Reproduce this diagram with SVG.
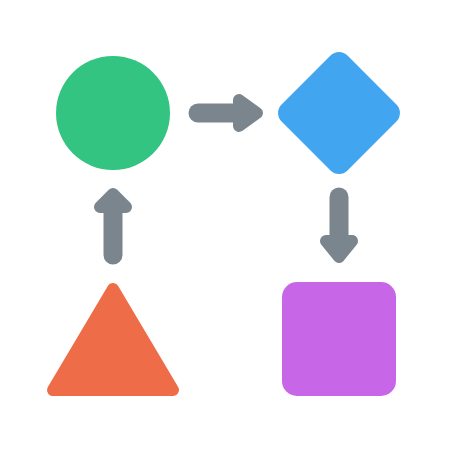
<svg xmlns="http://www.w3.org/2000/svg" width="452" height="452" viewBox="0 0 452 452">
  <style>
    .shaft { stroke: #7b858e; stroke-width: 19; stroke-linecap: round; fill: none; }
    .head { fill: #7b858e; stroke: #7b858e; stroke-width: 12; stroke-linejoin: round; }
  </style>
  <rect width="452" height="452" fill="#ffffff"/>
  <g id="circle">
    <circle cx="113" cy="113" r="57" fill="#33c481"/>
  </g>
  <g id="diamond">
    <rect x="-46.6" y="-46.6" width="93.2" height="93.2" rx="12" fill="#42a5f0" transform="translate(339 113) rotate(45)"/>
  </g>
  <g id="square">
    <rect x="282" y="282" width="114" height="114" rx="15" fill="#c767e8"/>
  </g>
  <g id="triangle">
    <polygon points="113,289 53,390 173,390" fill="#ee6c47" stroke="#ee6c47" stroke-width="12" stroke-linejoin="round"/>
  </g>
  <g id="connectors">
    <g id="arrow-circle-diamond">
      <line class="shaft" x1="198" y1="113" x2="243" y2="113"/>
      <polygon class="head" points="239,100 257,113 239,126"/>
    </g>
    <g id="arrow-diamond-square">
      <line class="shaft" x1="339" y1="197" x2="339" y2="242"/>
      <polygon class="head" points="326,241 339,257 352,241"/>
    </g>
    <g id="arrow-triangle-circle">
      <line class="shaft" x1="113" y1="255" x2="113" y2="210"/>
      <polygon class="head" points="100,207 113,194 126,207"/>
    </g>
  </g>
</svg>
